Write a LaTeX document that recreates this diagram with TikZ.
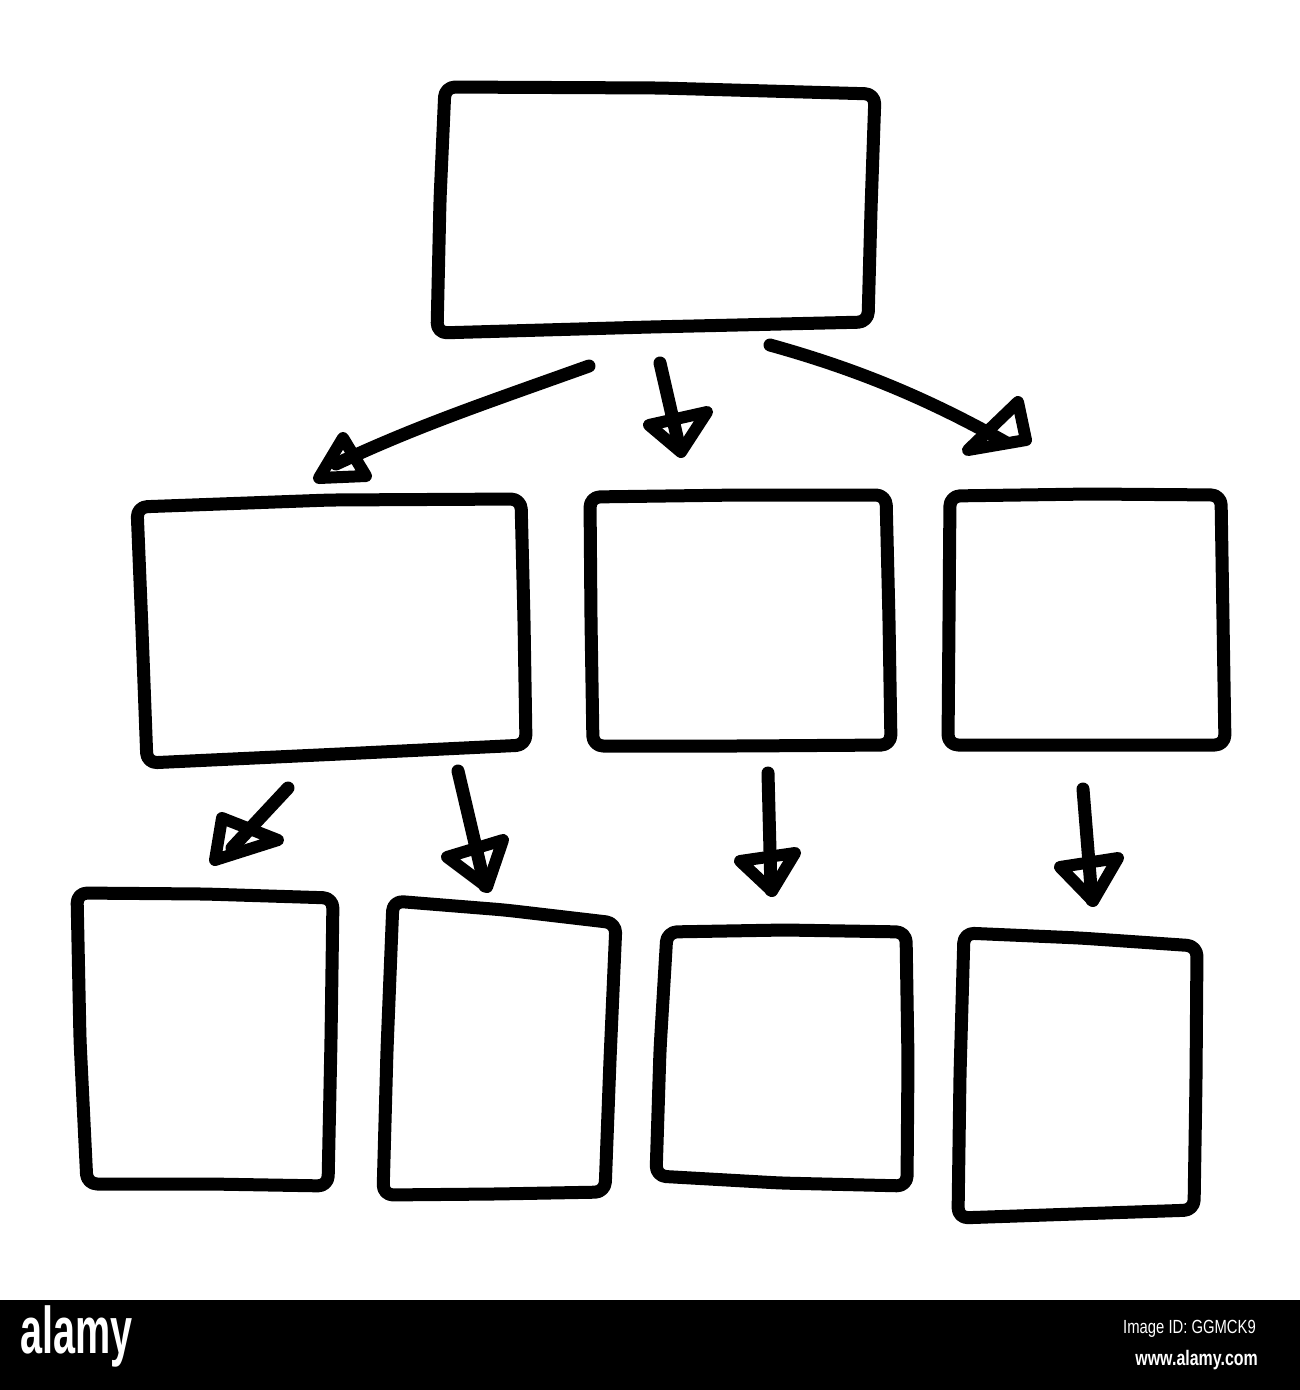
\documentclass[tikz,border=0pt]{standalone}
\usepackage{fontspec}
\setmainfont{Liberation Sans}
\begin{document}
\begin{tikzpicture}[x=1pt,y=-1pt,
 box/.style={line width=13pt, line join=round, line cap=round, rounded corners=10pt},
 conn/.style={line width=13pt, line cap=round, line join=round},
 head/.style={line width=12pt, line join=round, line cap=round}]
\useasboundingbox (0,0) rectangle (1300,1390);
\fill[white] (0,0) rectangle (1300,1300);
% boxes
\draw[box] (445,87) -- (660,88) -- (875,94) -- (871,210) -- (868,322) -- (650,327) -- (437,333) -- (440,200) -- cycle;
\draw[box] (137,507) -- (330,500) -- (521,499) -- (524,620) -- (526,745) -- (340,754) -- (147,763) -- (142,630) -- cycle;
\draw[box] (590,497) -- (740,495) -- (886,495) -- (889,620) -- (891,745) -- (740,746) -- (593,746) -- (591,620) -- cycle;
\draw[box] (950,496) -- (1090,494) -- (1221,495) -- (1223,620) -- (1225,745) -- (1085,745) -- (948,745) -- (949,620) -- cycle;
\draw[box] (77,893) -- (205,894) -- (333,898) -- (331,1040) -- (328,1186) -- (210,1184) -- (87,1184) -- (80,1040) -- cycle;
\draw[box] (393,901) -- (505,910) -- (616,923) -- (610,1060) -- (605,1192) -- (495,1194) -- (383,1195) -- (387,1050) -- cycle;
\draw[box] (667,932) -- (785,930) -- (906,932) -- (908,1060) -- (907,1186) -- (780,1183) -- (656,1176) -- (660,1050) -- cycle;
\draw[box] (964,933) -- (1080,938) -- (1197,946) -- (1196,1080) -- (1194,1210) -- (1075,1214) -- (958,1218) -- (960,1075) -- cycle;
% connector ends
\coordinate (a1s) at (589,366); \coordinate (a1e) at (336,464);
\coordinate (a2s) at (660,363); \coordinate (a2e) at (680,450);
\coordinate (a3s) at (770,345); \coordinate (a3e) at (1005,442);
\coordinate (a4s) at (288,788); \coordinate (a4e) at (232,848);
\coordinate (a5s) at (458,771); \coordinate (a5e) at (485,886);
\coordinate (a6s) at (768,773); \coordinate (a6e) at (771,890);
\coordinate (a7s) at (1083,789); \coordinate (a7e) at (1092,900);
% connectors
\draw[conn] (a1s) .. controls (480,405) and (420,425) .. (a1e);
\draw[conn] (a2s) -- (a2e);
\draw[conn] (a3s) .. controls (860,370) and (930,400) .. (a3e);
\draw[conn] (a4s) -- (a4e);
\draw[conn] (a5s) -- (a5e);
\draw[conn] (a6s) -- (a6e);
\draw[conn] (a7s) -- (a7e);
% heads
\draw[head] (343,438) -- (319,478) -- (366,476) -- cycle;
\draw[head] (649,425) -- (707,412) -- (681,452) -- cycle;
\draw[head] (1018,402) -- (1026,440) -- (968,450) -- cycle;
\draw[head] (222,818) -- (278,840) -- (215,860) -- cycle;
\draw[head] (447,857) -- (503,840) -- (487,887) -- cycle;
\draw[head] (740,861) -- (795,853) -- (772,891) -- cycle;
\draw[head] (1060,867) -- (1118,858) -- (1093,901) -- cycle;
% banner
\fill[black] (0,1300) rectangle (1300,1390);
\node[white, font=\bfseries\fontsize{66}{66}\selectfont, anchor=west, inner sep=0pt] (logo) at (20,1336) {\scalebox{0.6}[1]{alamy}};
\node[white, font=\fontsize{19}{19}\selectfont, anchor=east, inner sep=0pt] (imgid) at (1256,1329) {\scalebox{0.78}[1]{Image ID: GGMCK9}};
\node[white, font=\bfseries\fontsize{21}{21}\selectfont, anchor=east, inner sep=0pt] (url) at (1258,1360) {\scalebox{0.76}[1]{www.alamy.com}};
\end{tikzpicture}
\end{document}
